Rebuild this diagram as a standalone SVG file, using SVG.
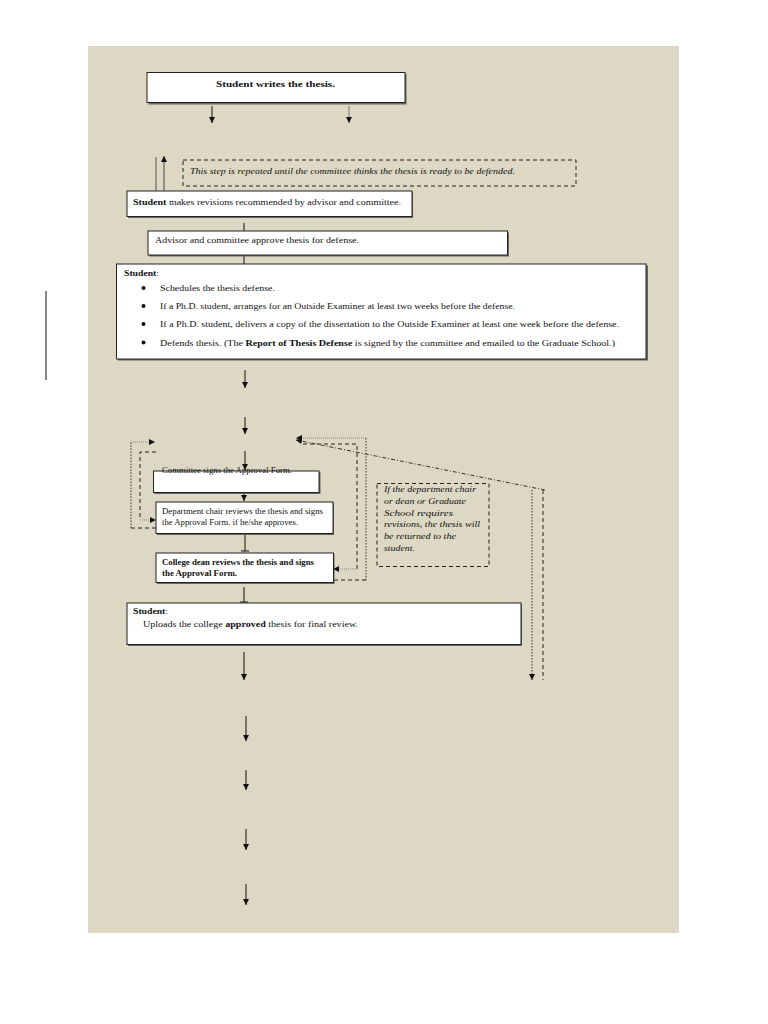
<svg xmlns="http://www.w3.org/2000/svg" width="768" height="1024" viewBox="0 0 768 1024">
<style>
.t{font-family:"Liberation Serif","Times New Roman",serif;font-size:9px;fill:#111}
.b{font-weight:bold}
.i{font-style:italic}
.box{fill:#fff;stroke:#222;stroke-width:1}
.sh{fill:#666}
.ln{stroke:#111;stroke-width:1;fill:none}
.gr{stroke:#777;stroke-width:1;fill:none}
.dash{stroke:#222;stroke-width:1;fill:none;stroke-dasharray:4 3}
.dot{stroke:#333;stroke-width:1;fill:none;stroke-dasharray:1.5 1.5}
.gdot{stroke:#888;stroke-width:1;fill:none;stroke-dasharray:1 1}
.dd{stroke:#333;stroke-width:1;fill:none;stroke-dasharray:4 2 1 2}
</style>
<defs>
<marker id="ah" viewBox="0 0 10 10" refX="10" refY="5" markerWidth="6" markerHeight="7" orient="auto" markerUnits="userSpaceOnUse">
<path d="M0,0 L10,5 L0,10 z" fill="#111"/>
</marker>
</defs>
<rect width="768" height="1024" fill="#fff"/>
<rect x="88" y="46" width="591" height="887" fill="#ddd8c4"/>
<line x1="46" y1="291" x2="46" y2="380" stroke="#111" stroke-width="1"/>

<g id="connectors">
<line class="ln" x1="212" y1="106" x2="212" y2="123" marker-end="url(#ah)"/>
<line class="gr" x1="349" y1="106" x2="349" y2="123" marker-end="url(#ah)"/>
<line class="gr" x1="156" y1="157" x2="156" y2="191" style="stroke:#555"/>
<line class="ln" x1="164" y1="191" x2="164" y2="156" marker-end="url(#ah)" style="stroke:#444"/>
<line class="ln" x1="244" y1="223" x2="244" y2="231"/>
<line class="ln" x1="244" y1="255" x2="244" y2="264"/>
<line class="ln" x1="245" y1="370" x2="245" y2="388" marker-end="url(#ah)"/>
<line class="ln" x1="245" y1="417" x2="245" y2="434" marker-end="url(#ah)"/>
<line class="ln" x1="245" y1="451" x2="245" y2="470" marker-end="url(#ah)"/>
<line class="ln" x1="244" y1="493" x2="244" y2="501" marker-end="url(#ah)"/>
<path class="ln" d="M245,534 V551 M241,551 H249"/>
<path class="ln" d="M244,587 V602 M240,602 H248"/>
<line class="ln" x1="244" y1="652" x2="244" y2="680" marker-end="url(#ah)"/>
<line class="ln" x1="246" y1="716" x2="246" y2="741" marker-end="url(#ah)"/>
<line class="ln" x1="246" y1="770" x2="246" y2="790" marker-end="url(#ah)"/>
<line class="ln" x1="246" y1="829" x2="246" y2="850" marker-end="url(#ah)"/>
<line class="ln" x1="246" y1="884" x2="246" y2="905" marker-end="url(#ah)"/>
<!-- left loops -->
<line class="dash" x1="156" y1="528" x2="131" y2="528"/>
<line class="dot" x1="131" y1="528" x2="131" y2="442"/>
<line class="gdot" x1="131" y1="442" x2="155" y2="442" marker-end="url(#ah)"/>
<path class="dash" d="M156,452 H140 V520"/>
<line class="gdot" x1="140" y1="520" x2="156" y2="520" marker-end="url(#ah)"/>
<!-- right loops -->
<line class="gdot" x1="366" y1="438" x2="296" y2="438" marker-end="url(#ah)"/>
<line class="dot" x1="366" y1="438" x2="366" y2="580"/>
<line class="dash" x1="366" y1="580" x2="334" y2="580"/>
<path class="dash" d="M303,444 H357 V569"/>
<line class="gdot" x1="357" y1="569" x2="333" y2="569" marker-end="url(#ah)"/>
<line class="dd" x1="545" y1="490" x2="296" y2="440" marker-end="url(#ah)"/>
<line class="dot" x1="532" y1="490" x2="532" y2="680" marker-end="url(#ah)"/>
<line class="dash" x1="543" y1="490" x2="543" y2="680"/>
</g>

<g id="n-writes">
<rect class="sh" x="148.5" y="74" width="258" height="30.5"/>
<rect class="box" x="147" y="72.5" width="258" height="30"/>
<text class="t b" x="216" y="87" textLength="119" lengthAdjust="spacingAndGlyphs">Student writes the thesis.</text>
</g>

<g id="n-note-repeat">
<rect x="183" y="160" width="393" height="26" fill="#fff" class="dash"/>
<text class="t i" x="190" y="174" textLength="325" lengthAdjust="spacingAndGlyphs">This step is repeated until the committee thinks the thesis is ready to be defended.</text>
</g>

<g id="n-revisions">
<rect class="sh" x="128" y="192.5" width="285" height="25.5"/>
<rect class="box" x="127" y="191" width="285" height="25.5"/>
<text class="t" x="133" y="205" textLength="268" lengthAdjust="spacingAndGlyphs"><tspan class="b">Student</tspan> makes revisions recommended by advisor and committee.</text>
</g>

<g id="n-approve">
<rect class="sh" x="149" y="232.5" width="360" height="24"/>
<rect class="box" x="148" y="231" width="359.5" height="24"/>
<text class="t" x="155" y="243" textLength="204" lengthAdjust="spacingAndGlyphs">Advisor and committee approve thesis for defense.</text>
</g>

<g id="n-student">
<rect class="sh" x="118" y="265.5" width="530" height="95"/>
<rect class="box" x="116.5" y="264" width="529.5" height="95"/>
<text class="t" x="124" y="276" textLength="35" lengthAdjust="spacingAndGlyphs"><tspan class="b">Student</tspan>:</text>
<circle cx="143.5" cy="288" r="2" fill="#111"/>
<circle cx="143.5" cy="306" r="2" fill="#111"/>
<circle cx="143.5" cy="324" r="2" fill="#111"/>
<circle cx="143.5" cy="342.5" r="2" fill="#111"/>
<text class="t" x="160" y="291" textLength="115" lengthAdjust="spacingAndGlyphs">Schedules the thesis defense.</text>
<text class="t" x="160" y="309" textLength="355" lengthAdjust="spacingAndGlyphs">If a Ph.D. student, arranges for an Outside Examiner at least two weeks before the defense.</text>
<text class="t" x="160" y="327" textLength="459" lengthAdjust="spacingAndGlyphs">If a Ph.D. student, delivers a copy of the dissertation to the Outside Examiner at least one week before the defense.</text>
<text class="t" x="160" y="346" textLength="455" lengthAdjust="spacingAndGlyphs">Defends thesis. (The <tspan class="b">Report of Thesis Defense</tspan> is signed by the committee and emailed to the Graduate School.)</text>
</g>

<g id="n-committee">
<rect class="sh" x="154.5" y="472" width="166" height="22"/>
<rect class="box" x="153.5" y="471" width="165.5" height="21.5"/>
<text class="t" x="162" y="473" textLength="130" lengthAdjust="spacingAndGlyphs">Committee signs the Approval Form.</text>
</g>

<g id="n-dept">
<rect class="sh" x="157" y="503" width="177" height="32"/>
<rect class="box" x="156" y="502" width="177" height="31.5"/>
<text class="t" x="162" y="514" textLength="161" lengthAdjust="spacingAndGlyphs">Department chair reviews the thesis and signs</text>
<text class="t" x="162" y="524.5" textLength="136" lengthAdjust="spacingAndGlyphs">the Approval Form. if he/she approves.</text>
</g>

<g id="n-dean">
<rect class="sh" x="157" y="554" width="177.5" height="30"/>
<rect class="box" x="156" y="553" width="177.5" height="29.5"/>
<text class="t b" x="162" y="565" textLength="152" lengthAdjust="spacingAndGlyphs">College dean reviews the thesis and signs</text>
<text class="t b" x="162" y="575.5" textLength="75" lengthAdjust="spacingAndGlyphs">the Approval Form.</text>
</g>

<g id="n-note-revisions">
<rect x="377" y="483.5" width="112" height="83" fill="#fff" class="dash"/>
<text class="t i" x="384" y="492" textLength="92" lengthAdjust="spacingAndGlyphs">If the department chair</text>
<text class="t i" x="384" y="504" textLength="82" lengthAdjust="spacingAndGlyphs">or dean or Graduate</text>
<text class="t i" x="384" y="515.5" textLength="69" lengthAdjust="spacingAndGlyphs">School requires</text>
<text class="t i" x="384" y="527" textLength="96" lengthAdjust="spacingAndGlyphs">revisions, the thesis will</text>
<text class="t i" x="384" y="539" textLength="72" lengthAdjust="spacingAndGlyphs">be returned to the</text>
<text class="t i" x="384" y="550.5" textLength="31" lengthAdjust="spacingAndGlyphs">student.</text>
</g>

<g id="n-upload">
<rect class="sh" x="128" y="604" width="394" height="42"/>
<rect class="box" x="127" y="603" width="394" height="41.5"/>
<text class="t" x="133" y="614" textLength="35" lengthAdjust="spacingAndGlyphs"><tspan class="b">Student</tspan>:</text>
<text class="t" x="143" y="627" textLength="215" lengthAdjust="spacingAndGlyphs">Uploads the college <tspan class="b">approved</tspan> thesis for final review.</text>
</g>
</svg>
